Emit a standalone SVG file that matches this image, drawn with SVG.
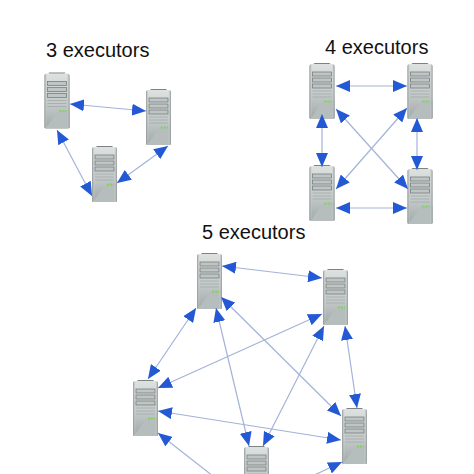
<svg xmlns="http://www.w3.org/2000/svg" xmlns:xlink="http://www.w3.org/1999/xlink" width="474" height="474" viewBox="0 0 474 474">
<style>
text{font-family:"Liberation Sans",Arial,sans-serif;font-size:20px;fill:#111}
.c line{stroke:#a3b3d8;stroke-width:1.2;marker-start:url(#h);marker-end:url(#h)}
.c line.o{marker-start:none}
.bay{fill:#bfc5c4;stroke:#78807f;stroke-width:.8}
.vent{stroke:#a8b0af;stroke-width:1}
</style>
<defs>
<marker id="h" viewBox="0 0 14 12" refX="14" refY="6" markerWidth="14" markerHeight="12" markerUnits="userSpaceOnUse" orient="auto-start-reverse"><path d="M0 0L14 6L0 12Z" fill="#2459d6"/></marker>
<linearGradient id="b" x1="0" y1="0" x2="0" y2="1"><stop offset="0" stop-color="#dde1e0"/><stop offset=".55" stop-color="#c4cac9"/><stop offset="1" stop-color="#a0aaa9"/></linearGradient>
<linearGradient id="s" x1="0" y1="0" x2="1" y2="0"><stop offset="0" stop-color="#8b9392"/><stop offset=".12" stop-color="#dfe3e2" stop-opacity="0"/><stop offset=".88" stop-color="#dfe3e2" stop-opacity="0"/><stop offset="1" stop-color="#8b9392"/></linearGradient>
<g id="server">
<path d="M0 3Q0 1 3 1L22 1Q25 1 25 3L25 55Q25 56 23 56L2 56Q0 56 0 55Z" fill="url(#b)"/>
<path d="M5 1L20 1L21 0L4 0Z" fill="#7c8382"/>
<path d="M1 56L14 38L25 38L25 55L23 56Z" fill="#b6bebd"/>
<path d="M0 3Q0 1 3 1L22 1Q25 1 25 3L25 55Q25 56 23 56L2 56Q0 56 0 55Z" fill="url(#s)"/>
<rect class="bay" x="3" y="9" width="19" height="4"/>
<rect class="bay" x="3" y="15" width="19" height="4"/>
<rect class="bay" x="3" y="21" width="19" height="4"/>
<path class="vent" d="M3 28H22M3 31H22M3 34H22"/>
<path d="M15 38.500H22" stroke="#7fd65a" stroke-width="2" stroke-dasharray="2 1"/>
</g>
</defs>
<rect width="474" height="474" fill="#fff"/>
<text x="46" y="57">3 executors</text>
<text x="325" y="54">4 executors</text>
<text x="202" y="239">5 executors</text>
<g id="n3a" transform="translate(44.500 72.500)"><use href="#server"/></g>
<g id="n3b" transform="translate(146 89)"><use href="#server"/></g>
<g id="n3c" transform="translate(92 146)"><use href="#server"/></g>
<g id="n4a" transform="translate(309.500 63)"><use href="#server"/></g>
<g id="n4b" transform="translate(407.500 63)"><use href="#server"/></g>
<g id="n4c" transform="translate(309.500 165)"><use href="#server"/></g>
<g id="n4d" transform="translate(407.500 168)"><use href="#server"/></g>
<g id="n5a" transform="translate(197 253)"><use href="#server"/></g>
<g id="n5b" transform="translate(323 269)"><use href="#server"/></g>
<g id="n5c" transform="translate(133 380)"><use href="#server"/></g>
<g id="n5d" transform="translate(342 408)"><use href="#server"/></g>
<g id="n5e" transform="translate(244 446)"><use href="#server"/></g>
<g id="connectors" class="c">
<line x1="70" y1="104" x2="146" y2="111"/>
<line x1="57" y1="130" x2="92" y2="196"/>
<line x1="168" y1="146" x2="117" y2="183"/>
<line x1="336" y1="86" x2="407" y2="86"/>
<line x1="322" y1="114" x2="322" y2="167"/>
<line x1="417" y1="118" x2="417" y2="170"/>
<line x1="336" y1="208" x2="407" y2="208"/>
<line x1="336" y1="109" x2="408" y2="189"/>
<line x1="407" y1="108" x2="336" y2="189"/>
<line x1="222" y1="266" x2="322" y2="278"/>
<line x1="196" y1="308" x2="148" y2="379"/>
<line x1="216" y1="308" x2="249" y2="446"/>
<line x1="221" y1="297" x2="341" y2="416"/>
<line x1="322" y1="314" x2="158" y2="388"/>
<line x1="324" y1="326" x2="263" y2="446"/>
<line x1="345" y1="326" x2="357" y2="408"/>
<line x1="158" y1="411" x2="341" y2="440"/>
<line class="o" x1="218" y1="480" x2="158" y2="433"/>
<line class="o" x1="306" y1="479" x2="342" y2="462"/>
</g>
</svg>
